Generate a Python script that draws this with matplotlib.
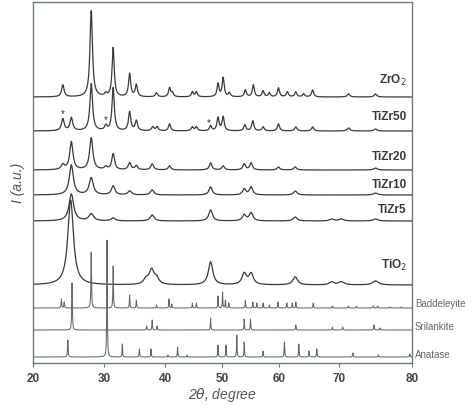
import matplotlib
matplotlib.use("Agg")
import matplotlib.pyplot as plt
import numpy as np

plt.rcParams["font.family"] = ["Liberation Sans", "DejaVu Sans"]

# measured sample patterns: peak position (2theta), height
zro2_pos = [24.2, 28.2, 30.3, 31.5, 34.2, 35.3, 38.6, 40.8, 41.3, 44.8, 45.5, 49.3, 50.2, 51.3,
            54.1, 55.5, 57.2, 58.3, 59.9, 61.4, 62.8, 64.1, 65.6, 71.3, 75.0]
zro2_h = [12, 86, 3, 49, 23, 12, 4, 9, 4, 5, 5, 13, 19, 4, 7, 12, 6, 4, 9, 5, 5, 3, 7, 3, 3]

tizr50_pos = [24.2, 25.4, 28.2, 30.3, 31.5, 34.2, 35.3, 38.0, 38.7, 40.8, 44.8, 45.5, 48.0, 49.3, 50.2,
              54.0, 55.4, 57.2, 59.9, 62.8, 65.6, 71.3, 75.0]
tizr50_h = [12, 13, 47, 5, 43, 19, 10, 4, 4, 7, 4, 4, 5, 13, 14, 6, 10, 4, 7, 4, 4, 3, 2]

tizr20_pos = [24.2, 25.4, 28.2, 30.3, 31.5, 34.2, 35.3, 37.9, 40.8, 48.0, 50.2, 53.9, 55.1, 59.9, 62.7, 75.0]
tizr20_h = [5, 28, 32, 3, 16, 7, 4, 6, 4, 7, 4, 6, 7, 3, 3, 2]

tizr10_pos = [25.4, 28.2, 31.5, 34.2, 37.9, 48.0, 53.9, 55.1, 62.7, 75.0]
tizr10_h = [30, 17, 9, 4, 5, 8, 6, 8, 4, 2]

tizr5_pos = [25.4, 28.2, 31.5, 37.9, 48.0, 53.9, 55.1, 62.7, 68.8, 70.3, 75.0]
tizr5_h = [27, 7, 3, 6, 11, 6, 8, 4, 2, 2, 2]

tio2_pos = [25.3, 36.9, 37.8, 38.6, 48.0, 53.9, 55.1, 62.7, 68.8, 70.3, 75.0]
tio2_h = [85, 5, 14, 6, 23, 11, 11, 8, 3, 3, 4]

# reference cards
badd_pos = [24.0, 24.4, 28.2, 31.5, 34.2, 35.3, 38.6, 40.7, 41.2, 44.8, 45.5, 49.3, 50.1, 50.6, 51.2,
            54.1, 55.4, 56.1, 57.2, 58.3, 59.8, 61.3, 62.2, 62.8, 65.7, 68.9, 71.3, 72.4, 74.7, 75.3,
            77.0, 78.5]
badd_h = [9, 6, 56, 42, 13, 8, 3, 9, 4, 5, 5, 12, 16, 8, 5, 8, 6, 5, 5, 3, 6, 5, 5, 6, 5, 2, 2, 1.5,
          2, 2, 1, 1]

sril_pos = [25.5, 37.0, 37.9, 38.7, 48.0, 53.9, 55.0, 62.8, 68.9, 70.5, 74.8, 75.6]
sril_h = [47, 4, 10, 4, 12, 11, 11, 5, 3, 3, 5, 2]

anat_pos = [24.9, 30.5, 33.0, 35.8, 37.7, 40.5, 42.2, 43.9, 49.3, 50.7, 52.6, 53.9, 57.2, 60.9, 63.3,
            65.0, 66.3, 71.9, 75.4, 79.7]
anat_h = [17, 117, 13, 8, 8, 2, 10, 2, 12, 12, 22, 15, 6, 15, 13, 6, 8, 4, 2, 3]

# name, peaks, heights, fwhm, offset, label y
samples = [
    ("ZrO$_2$", zro2_pos, zro2_h, 0.42, 266, 283),
    ("TiZr50", tizr50_pos, tizr50_h, 0.45, 232, 246),
    ("TiZr20", tizr20_pos, tizr20_h, 0.55, 193, 206),
    ("TiZr10", tizr10_pos, tizr10_h, 0.68, 168, 178),
    ("TiZr5", tizr5_pos, tizr5_h, 0.78, 142, 153),
    ("TiO$_2$", tio2_pos, tio2_h, 0.95, 78, 98),
]
cards = [
    ("Baddeleyite", badd_pos, badd_h, 55, 59),
    ("Srilankite", sril_pos, sril_h, 33, 36),
    ("Anatase", anat_pos, anat_h, 6, 8),
]

# the printed axis is not evenly spaced; calibrate from tick positions
tick_deg = [20, 30, 40, 50, 60, 70, 80]
tick_px = [33, 104, 165, 222, 279, 339, 412]


def _pw(x, xp, fp):
    x = np.asarray(x, dtype=float)
    y = np.interp(x, xp, fp)
    s0 = (fp[1] - fp[0]) / (xp[1] - xp[0])
    s1 = (fp[-1] - fp[-2]) / (xp[-1] - xp[-2])
    y = np.where(x < xp[0], fp[0] + (x - xp[0]) * s0, y)
    y = np.where(x > xp[-1], fp[-1] + (x - xp[-1]) * s1, y)
    return y


def fwd(x):
    return _pw(x, tick_deg, tick_px)


def inv(x):
    return _pw(x, tick_px, tick_deg)


def pattern(tt, pos, h, w):
    out = np.zeros_like(tt)
    for p, a in zip(pos, h):
        out += a / (1.0 + ((tt - p) / (w / 2.0)) ** 2)
    return out


tt = np.linspace(20, 80, 6000)

fig = plt.figure(figsize=(4.74, 4.09), dpi=100)
ax = fig.add_axes([33 / 474, 46 / 409, 379 / 474, 361 / 409])
ax.set_xscale("function", functions=(fwd, inv))

for name, pos, h, w, off, ly in samples:
    ax.plot(tt, off + pattern(tt, pos, h, w), color="#3a3a3a", lw=0.9)
    ax.text(79.3, ly, name, ha="right", va="center", fontsize=8.5, fontweight="bold", color="#383838")

for name, pos, h, off, ly in cards:
    ax.plot(tt, off + pattern(tt, pos, h, 0.1), color="#5f6a6a", lw=0.75)
    ax.text(80.4, ly, name, ha="left", va="center", fontsize=7, color="#666666", clip_on=False)

# stars marking ZrO2 reflections in TiZr50
for sx, sy in [(24.2, 249), (30.3, 243), (47.6, 240)]:
    ax.text(sx, sy, "*", ha="center", va="center", fontsize=7, color="#333333")

ax.set_xlim(20, 80)
ax.set_ylim(0, 361)
ax.set_xticks(tick_deg)
ax.set_xticklabels([str(t) for t in tick_deg], fontsize=8.5, fontweight="bold", color="#444444")
ax.set_yticks([])
ax.tick_params(axis="x", direction="out", length=3, color="#6b7b7b", pad=4)
for sp in ax.spines.values():
    sp.set_color("#6b7b7b")
    sp.set_linewidth(1.0)

ax.set_xlabel("2$\\it{\\theta}$, degree", fontsize=10, style="italic", color="#555555", labelpad=1)
ax.set_ylabel("I (a.u.)", fontsize=10, style="italic", color="#555555", labelpad=6)

fig.savefig("out.png", dpi=100)
